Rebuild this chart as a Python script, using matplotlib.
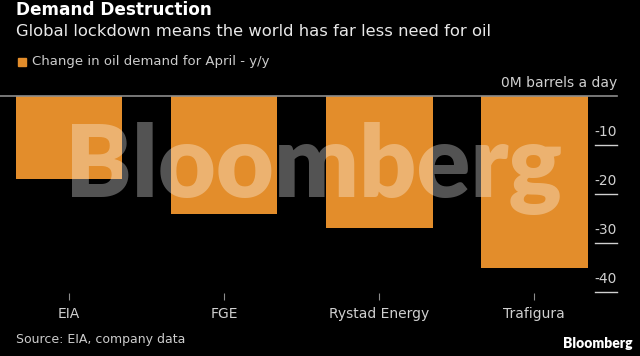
import matplotlib
matplotlib.use("Agg")
import matplotlib.pyplot as plt
from matplotlib.patches import Rectangle
from matplotlib.transforms import blended_transform_factory
import numpy as np

# Data (M barrels a day, change y/y for April)
sources = ["EIA", "FGE", "Rystad Energy", "Trafigura"]
demand_change = [-17, -24, -27, -35]
y_ticks = [0, -10, -20, -30, -40]
y_tick_labels = ["0M barrels a day", "-10", "-20", "-30", "-40"]

W, H = 640, 356
bar_color = "#E38D2B"
grey = "#8c8c8c"
text_grey = "#d0d0d0"

fig = plt.figure(figsize=(W / 100, H / 100), dpi=100, facecolor="black")

# axes spans pixel x 0..617, y 96..293
ax = fig.add_axes([0 / W, 1 - 293 / H, 617 / W, (293 - 96) / H])
ax.set_facecolor("black")

x = np.arange(len(sources))
ax.bar(x, demand_change, width=0.69, color=bar_color, zorder=2)
ax.set_xlim(-0.445, 3.535)
ax.set_ylim(-40.2, 0)

for s in ax.spines.values():
    s.set_visible(False)

# zero line
ax.axhline(0, color=grey, lw=1.2, zorder=3, clip_on=False)

# x ticks
ax.set_xticks(x)
ax.set_xticklabels(sources, fontsize=10, color=text_grey)
ax.tick_params(axis="x", length=5, width=0.8, color=grey, pad=5)
ax.set_yticks([])

# right-side y tick labels with short underlines
trans = blended_transform_factory(ax.transAxes, ax.transData)
for v, lab in zip(y_ticks, y_tick_labels):
    if v != 0:
        ax.plot([0.964, 1.0], [v, v], color=text_grey, lw=1.0,
                transform=trans, clip_on=False, zorder=3)
    ax.annotate(lab, xy=(1.0, v), xycoords=trans, xytext=(0, 4),
                textcoords="offset points", ha="right", va="bottom",
                fontsize=10, color=text_grey, annotation_clip=False)

# Titles
fig.text(16 / W, 1 - 15 / H, "Demand Destruction", fontsize=12.2,
         fontweight="bold", color="white", va="baseline")
fig.text(16 / W, 1 - 36 / H, "Global lockdown means the world has far less need for oil",
         fontsize=11.8, color="#e8e8e8", va="baseline")

# Legend
fig.patches.append(Rectangle((18 / W, 1 - 66 / H), 8 / W, 8 / H,
                             transform=fig.transFigure, color=bar_color))
fig.text(32 / W, 1 - 62 / H, "Change in oil demand for April - y/y",
         fontsize=9.5, color="#cccccc", va="center")

# Watermark
fig.text(314 / W, 1 - 197 / H, "Bloomberg", family="Lato", fontweight="heavy",
         fontsize=72, color="white", alpha=0.33, ha="center", va="baseline",
         zorder=10)

# Footer
fig.text(16 / W, 1 - 340 / H, "Source: EIA, company data", fontsize=9,
         color="#cccccc", va="center")
fig.text(632 / W, 1 - 343 / H, "Bloomberg", family="Lato", fontweight="heavy",
         fontsize=10, color="white", ha="right", va="center")

fig.savefig("out.png", dpi=100, facecolor="black")
